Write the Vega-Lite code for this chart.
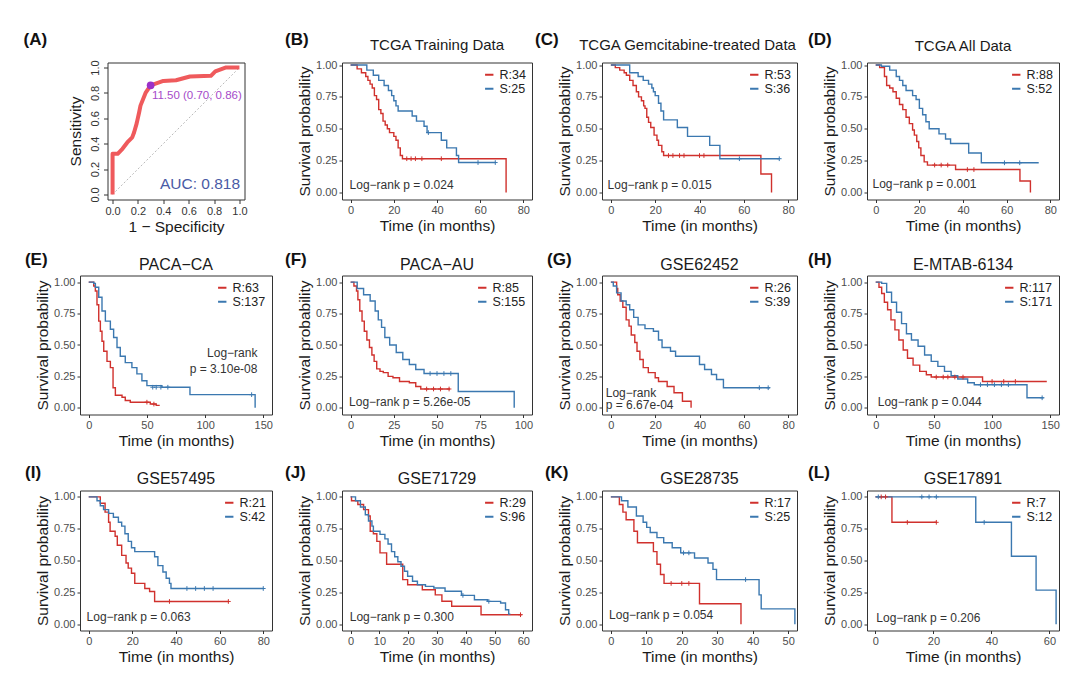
{
"$schema": "https://vega.github.io/schema/vega-lite/v6.json",
"background": "white",
"padding": {"left": 23, "top": 29.5, "right": 5, "bottom": 5},
"columns": 4,
"spacing": {"row": 76, "column": 70},
"bounds": "flush",
"align": "each",
"center": true,
"resolve": {"scale": {"color": "independent"}, "legend": {"color": "independent"}},
"config": {
  "font": "Liberation Sans",
  "view": {"stroke": "#333333", "strokeWidth": 1},
  "axis": {"domain": false, "grid": false, "tickColor": "#333333", "tickSize": 3, "tickWidth": 1, "labelFontSize": 11, "labelColor": "#4D4D4D", "labelPadding": 2, "labelFlush": false, "labelOverlap": false, "titleFontSize": 15.5, "titleFontWeight": "normal", "titleColor": "#1A1A1A", "titlePadding": 3},
  "legend": {"orient": "top-right", "offset": 6, "labelFontSize": 12.5, "labelColor": "#222222", "symbolType": "stroke", "symbolStrokeWidth": 2, "symbolSize": 70, "rowPadding": 1, "padding": 0, "labelOffset": 4}
},
"concat": [
{
 "width": 137, "height": 137,
 "layer": [
  {"data": {"values": [{"fpr": 0, "tpr": 0}, {"fpr": 1, "tpr": 1}]},
   "mark": {"type": "line", "color": "#BBBBBB", "strokeWidth": 1, "strokeDash": [2, 2]},
   "encoding": {
    "x": {"field": "fpr", "type": "quantitative", "scale": {"domain": [-0.04, 1.04], "nice": false, "zero": false}, "axis": {"values": [0, 0.2, 0.4, 0.6, 0.8, 1], "tickCount": 20, "format": ".1f", "title": "1 − Specificity", "labelColor": "#333333", "tickSize": 4, "titlePadding": 3, "labelOverlap": false}},
    "y": {"field": "tpr", "type": "quantitative", "scale": {"domain": [-0.04, 1.04], "nice": false, "zero": false}, "axis": {"values": [0, 0.2, 0.4, 0.6, 0.8, 1], "tickCount": 20, "format": ".1f", "title": "Sensitivity", "labelAngle": -90, "labelColor": "#333333", "tickSize": 4, "labelPadding": 3, "titlePadding": 6, "labelOverlap": false}}}},
  {"data": {"values": [
    {"i": 0, "fpr": 0, "tpr": 0}, {"i": 1, "fpr": 0, "tpr": 0.32}, {"i": 2, "fpr": 0.04, "tpr": 0.32}, {"i": 3, "fpr": 0.078, "tpr": 0.36},
    {"i": 4, "fpr": 0.116, "tpr": 0.41}, {"i": 5, "fpr": 0.155, "tpr": 0.45}, {"i": 6, "fpr": 0.17, "tpr": 0.49}, {"i": 7, "fpr": 0.19, "tpr": 0.56},
    {"i": 8, "fpr": 0.21, "tpr": 0.65}, {"i": 9, "fpr": 0.22, "tpr": 0.7}, {"i": 10, "fpr": 0.26, "tpr": 0.8}, {"i": 11, "fpr": 0.3, "tpr": 0.86},
    {"i": 12, "fpr": 0.4, "tpr": 0.895}, {"i": 13, "fpr": 0.5, "tpr": 0.9}, {"i": 14, "fpr": 0.61, "tpr": 0.93}, {"i": 15, "fpr": 0.775, "tpr": 0.935},
    {"i": 16, "fpr": 0.81, "tpr": 0.97}, {"i": 17, "fpr": 0.89, "tpr": 1}, {"i": 18, "fpr": 1, "tpr": 1}]},
   "mark": {"type": "line", "color": "#EF5A5C", "strokeWidth": 4, "strokeJoin": "round"},
   "encoding": {
    "x": {"field": "fpr", "type": "quantitative", "scale": {"domain": [-0.04, 1.04], "nice": false, "zero": false}},
    "y": {"field": "tpr", "type": "quantitative", "scale": {"domain": [-0.04, 1.04], "nice": false, "zero": false}},
    "order": {"field": "i", "type": "quantitative"}}},
  {"data": {"values": [{"fpr": 0.3, "tpr": 0.86}]},
   "mark": {"type": "point", "filled": true, "color": "#9B30C8", "size": 60, "opacity": 1},
   "encoding": {
    "x": {"field": "fpr", "type": "quantitative", "scale": {"domain": [-0.04, 1.04], "nice": false, "zero": false}},
    "y": {"field": "tpr", "type": "quantitative", "scale": {"domain": [-0.04, 1.04], "nice": false, "zero": false}}}},
  {"data": {"values": [{}]},
   "mark": {"type": "text", "text": "11.50 (0.70, 0.86)", "align": "left", "baseline": "middle", "fontSize": 11.5, "color": "#A64BC9"},
   "encoding": {
    "x": {"datum": 0.31, "type": "quantitative", "scale": {"domain": [-0.04, 1.04], "nice": false, "zero": false}},
    "y": {"datum": 0.775, "type": "quantitative", "scale": {"domain": [-0.04, 1.04], "nice": false, "zero": false}}}},
  {"data": {"values": [{}]},
   "mark": {"type": "text", "text": "AUC: 0.818", "align": "right", "baseline": "middle", "fontSize": 15.5, "color": "#4A5AA5"},
   "encoding": {
    "x": {"datum": 1.005, "type": "quantitative", "scale": {"domain": [-0.04, 1.04], "nice": false, "zero": false}},
    "y": {"datum": 0.08, "type": "quantitative", "scale": {"domain": [-0.04, 1.04], "nice": false, "zero": false}}}},
  {"data": {"values": [{}]},
   "mark": {"type": "text", "text": "(A)", "align": "left", "baseline": "middle", "fontSize": 17, "fontWeight": "bold", "color": "#111111"},
   "encoding": {
    "x": {"datum": -0.702, "type": "quantitative", "scale": {"domain": [-0.04, 1.04], "nice": false, "zero": false}},
    "y": {"datum": 1.219, "type": "quantitative", "scale": {"domain": [-0.04, 1.04], "nice": false, "zero": false}}}}
 ]
},
{
 "width": 190, "height": 137,
 "data": {"values": [
  {"g": "R:34", "t": 0, "s": 1}, {"g": "R:34", "t": 3, "s": 0.97}, {"g": "R:34", "t": 5, "s": 0.94}, {"g": "R:34", "t": 7, "s": 0.91}, {"g": "R:34", "t": 8, "s": 0.88}, {"g": "R:34", "t": 9, "s": 0.85}, {"g": "R:34", "t": 10, "s": 0.82}, {"g": "R:34", "t": 11, "s": 0.76}, {"g": "R:34", "t": 12, "s": 0.73}, {"g": "R:34", "t": 13, "s": 0.65}, {"g": "R:34", "t": 14, "s": 0.62}, {"g": "R:34", "t": 15, "s": 0.56}, {"g": "R:34", "t": 16, "s": 0.53}, {"g": "R:34", "t": 17, "s": 0.5}, {"g": "R:34", "t": 18, "s": 0.47}, {"g": "R:34", "t": 20, "s": 0.44}, {"g": "R:34", "t": 21, "s": 0.41}, {"g": "R:34", "t": 22, "s": 0.35}, {"g": "R:34", "t": 23, "s": 0.29}, {"g": "R:34", "t": 24, "s": 0.265}, {"g": "R:34", "t": 72, "s": 0},
  {"g": "S:25", "t": 0, "s": 1}, {"g": "S:25", "t": 7.5, "s": 0.96}, {"g": "S:25", "t": 10.5, "s": 0.92}, {"g": "S:25", "t": 13, "s": 0.88}, {"g": "S:25", "t": 15.5, "s": 0.84}, {"g": "S:25", "t": 17.5, "s": 0.8}, {"g": "S:25", "t": 19, "s": 0.76}, {"g": "S:25", "t": 20, "s": 0.72}, {"g": "S:25", "t": 21, "s": 0.68}, {"g": "S:25", "t": 22, "s": 0.64}, {"g": "S:25", "t": 28.5, "s": 0.6}, {"g": "S:25", "t": 30.5, "s": 0.56}, {"g": "S:25", "t": 34, "s": 0.52}, {"g": "S:25", "t": 35.4, "s": 0.47}, {"g": "S:25", "t": 42, "s": 0.41}, {"g": "S:25", "t": 44.5, "s": 0.35}, {"g": "S:25", "t": 49, "s": 0.29}, {"g": "S:25", "t": 50, "s": 0.235}, {"g": "S:25", "t": 67, "s": 0.235}
 ]},
 "layer": [
  {"mark": {"type": "line", "interpolate": "step-after", "strokeWidth": 1.4},
   "encoding": {
    "x": {"field": "t", "type": "quantitative", "scale": {"domain": [-4, 84], "nice": false, "zero": false}, "axis": {"values": [0, 20, 40, 60, 80], "tickCount": 20, "title": "Time (in months)"}},
    "y": {"field": "s", "type": "quantitative", "scale": {"domain": [-0.055, 1.02], "nice": false, "zero": false}, "axis": {"values": [0, 0.25, 0.5, 0.75, 1], "tickCount": 20, "format": ".2f", "title": "Survival probability"}},
    "color": {"field": "g", "type": "nominal", "scale": {"domain": ["R:34", "S:25"], "range": ["#D0312D", "#3B78B0"]}, "legend": {"title": null}}}},
  {"data": {"values": [{"g": "R:34", "t": 26, "s": 0.265}, {"g": "R:34", "t": 28, "s": 0.265}, {"g": "R:34", "t": 30, "s": 0.265}, {"g": "R:34", "t": 33, "s": 0.265}, {"g": "R:34", "t": 42, "s": 0.265}, {"g": "S:25", "t": 36, "s": 0.47}, {"g": "S:25", "t": 59, "s": 0.235}, {"g": "S:25", "t": 67, "s": 0.235}]},
   "mark": {"type": "point", "shape": "M-1,0H1M0,-1V1", "size": 22, "filled": false, "strokeWidth": 1, "opacity": 1},
   "encoding": {
    "x": {"field": "t", "type": "quantitative", "scale": {"domain": [-4, 84], "nice": false, "zero": false}},
    "y": {"field": "s", "type": "quantitative", "scale": {"domain": [-0.055, 1.02], "nice": false, "zero": false}},
    "color": {"field": "g", "type": "nominal", "scale": {"domain": ["R:34", "S:25"], "range": ["#D0312D", "#3B78B0"]}, "legend": null}}},
  {"data": {"values": [{}]},
   "mark": {"type": "text", "text": "Log−rank p = 0.024", "align": "left", "baseline": "middle", "fontSize": 12, "color": "#333333"},
   "encoding": {
    "x": {"datum": -0.5, "type": "quantitative", "scale": {"domain": [-4, 84], "nice": false, "zero": false}},
    "y": {"datum": 0.06, "type": "quantitative", "scale": {"domain": [-0.055, 1.02], "nice": false, "zero": false}}}},
  {"data": {"values": [{}]},
   "mark": {"type": "text", "text": "(B)", "align": "left", "baseline": "middle", "fontSize": 17, "fontWeight": "bold", "color": "#111111"},
   "encoding": {
    "x": {"datum": -30.4, "type": "quantitative", "scale": {"domain": [-4, 84], "nice": false, "zero": false}},
    "y": {"datum": 1.198, "type": "quantitative", "scale": {"domain": [-0.055, 1.02], "nice": false, "zero": false}}}},
  {"data": {"values": [{}]},
   "mark": {"type": "text", "text": "TCGA Training Data", "align": "center", "baseline": "alphabetic", "fontSize": 15, "color": "#1A1A1A"},
   "encoding": {
    "x": {"datum": 40, "type": "quantitative", "scale": {"domain": [-4, 84], "nice": false, "zero": false}},
    "y": {"datum": 1.12, "type": "quantitative", "scale": {"domain": [-0.055, 1.02], "nice": false, "zero": false}}}}
 ]
},
{
 "width": 195, "height": 137,
 "data": {"values": [
  {"g": "R:53", "t": 0, "s": 1}, {"g": "R:53", "t": 2, "s": 0.98}, {"g": "R:53", "t": 4, "s": 0.96}, {"g": "R:53", "t": 6, "s": 0.94}, {"g": "R:53", "t": 7, "s": 0.92}, {"g": "R:53", "t": 8.5, "s": 0.88}, {"g": "R:53", "t": 10, "s": 0.84}, {"g": "R:53", "t": 11.5, "s": 0.79}, {"g": "R:53", "t": 12.5, "s": 0.75}, {"g": "R:53", "t": 13.8, "s": 0.72}, {"g": "R:53", "t": 14.8, "s": 0.68}, {"g": "R:53", "t": 15.4, "s": 0.66}, {"g": "R:53", "t": 16.2, "s": 0.59}, {"g": "R:53", "t": 17, "s": 0.55}, {"g": "R:53", "t": 18, "s": 0.51}, {"g": "R:53", "t": 19.5, "s": 0.45}, {"g": "R:53", "t": 20.8, "s": 0.41}, {"g": "R:53", "t": 21.5, "s": 0.37}, {"g": "R:53", "t": 23, "s": 0.32}, {"g": "R:53", "t": 23.8, "s": 0.29}, {"g": "R:53", "t": 67.7, "s": 0.145}, {"g": "R:53", "t": 72.5, "s": 0},
  {"g": "S:36", "t": 0, "s": 1}, {"g": "S:36", "t": 8.5, "s": 0.94}, {"g": "S:36", "t": 12.3, "s": 0.91}, {"g": "S:36", "t": 14.6, "s": 0.88}, {"g": "S:36", "t": 17, "s": 0.85}, {"g": "S:36", "t": 18.5, "s": 0.82}, {"g": "S:36", "t": 19.2, "s": 0.79}, {"g": "S:36", "t": 20, "s": 0.76}, {"g": "S:36", "t": 21.5, "s": 0.7}, {"g": "S:36", "t": 22.6, "s": 0.64}, {"g": "S:36", "t": 23.8, "s": 0.57}, {"g": "S:36", "t": 30, "s": 0.51}, {"g": "S:36", "t": 34.6, "s": 0.44}, {"g": "S:36", "t": 44.6, "s": 0.37}, {"g": "S:36", "t": 49.2, "s": 0.265}, {"g": "S:36", "t": 76, "s": 0.265}
 ]},
 "layer": [
  {"mark": {"type": "line", "interpolate": "step-after", "strokeWidth": 1.4},
   "encoding": {
    "x": {"field": "t", "type": "quantitative", "scale": {"domain": [-4, 84], "nice": false, "zero": false}, "axis": {"values": [0, 20, 40, 60, 80], "tickCount": 20, "title": "Time (in months)"}},
    "y": {"field": "s", "type": "quantitative", "scale": {"domain": [-0.055, 1.02], "nice": false, "zero": false}, "axis": {"values": [0, 0.25, 0.5, 0.75, 1], "tickCount": 20, "format": ".2f", "title": "Survival probability"}},
    "color": {"field": "g", "type": "nominal", "scale": {"domain": ["R:53", "S:36"], "range": ["#D0312D", "#3B78B0"]}, "legend": {"title": null}}}},
  {"data": {"values": [{"g": "R:53", "t": 26, "s": 0.29}, {"g": "R:53", "t": 28, "s": 0.29}, {"g": "R:53", "t": 31, "s": 0.29}, {"g": "R:53", "t": 33, "s": 0.29}, {"g": "R:53", "t": 40, "s": 0.29}, {"g": "R:53", "t": 42, "s": 0.29}, {"g": "S:36", "t": 58, "s": 0.265}, {"g": "S:36", "t": 76, "s": 0.265}]},
   "mark": {"type": "point", "shape": "M-1,0H1M0,-1V1", "size": 22, "filled": false, "strokeWidth": 1, "opacity": 1},
   "encoding": {
    "x": {"field": "t", "type": "quantitative", "scale": {"domain": [-4, 84], "nice": false, "zero": false}},
    "y": {"field": "s", "type": "quantitative", "scale": {"domain": [-0.055, 1.02], "nice": false, "zero": false}},
    "color": {"field": "g", "type": "nominal", "scale": {"domain": ["R:53", "S:36"], "range": ["#D0312D", "#3B78B0"]}, "legend": null}}},
  {"data": {"values": [{}]},
   "mark": {"type": "text", "text": "Log−rank  p = 0.015", "align": "left", "baseline": "middle", "fontSize": 12, "color": "#333333"},
   "encoding": {
    "x": {"datum": -1.5, "type": "quantitative", "scale": {"domain": [-4, 84], "nice": false, "zero": false}},
    "y": {"datum": 0.06, "type": "quantitative", "scale": {"domain": [-0.055, 1.02], "nice": false, "zero": false}}}},
  {"data": {"values": [{}]},
   "mark": {"type": "text", "text": "(C)", "align": "left", "baseline": "middle", "fontSize": 17, "fontWeight": "bold", "color": "#111111"},
   "encoding": {
    "x": {"datum": -34.2, "type": "quantitative", "scale": {"domain": [-4, 84], "nice": false, "zero": false}},
    "y": {"datum": 1.198, "type": "quantitative", "scale": {"domain": [-0.055, 1.02], "nice": false, "zero": false}}}},
  {"data": {"values": [{}]},
   "mark": {"type": "text", "text": "TCGA Gemcitabine-treated Data", "align": "center", "baseline": "alphabetic", "fontSize": 15, "color": "#1A1A1A"},
   "encoding": {
    "x": {"datum": 34.6, "type": "quantitative", "scale": {"domain": [-4, 84], "nice": false, "zero": false}},
    "y": {"datum": 1.12, "type": "quantitative", "scale": {"domain": [-0.055, 1.02], "nice": false, "zero": false}}}}
 ]
},
{
 "width": 192, "height": 137,
 "data": {"values": [
  {"g": "R:88", "t": 0, "s": 1}, {"g": "R:88", "t": 1.8, "s": 0.98}, {"g": "R:88", "t": 4, "s": 0.91}, {"g": "R:88", "t": 5, "s": 0.84}, {"g": "R:88", "t": 6.4, "s": 0.82}, {"g": "R:88", "t": 7.9, "s": 0.79}, {"g": "R:88", "t": 9.4, "s": 0.74}, {"g": "R:88", "t": 10.9, "s": 0.69}, {"g": "R:88", "t": 12.4, "s": 0.65}, {"g": "R:88", "t": 13.9, "s": 0.59}, {"g": "R:88", "t": 15.4, "s": 0.54}, {"g": "R:88", "t": 16.9, "s": 0.49}, {"g": "R:88", "t": 17.7, "s": 0.45}, {"g": "R:88", "t": 18.8, "s": 0.4}, {"g": "R:88", "t": 19.7, "s": 0.35}, {"g": "R:88", "t": 20.7, "s": 0.29}, {"g": "R:88", "t": 22.2, "s": 0.24}, {"g": "R:88", "t": 23.7, "s": 0.215}, {"g": "R:88", "t": 36.6, "s": 0.18}, {"g": "R:88", "t": 66.1, "s": 0.09}, {"g": "R:88", "t": 70.9, "s": 0},
  {"g": "S:52", "t": 0, "s": 1}, {"g": "S:52", "t": 2.6, "s": 0.99}, {"g": "S:52", "t": 6.4, "s": 0.96}, {"g": "S:52", "t": 9.4, "s": 0.91}, {"g": "S:52", "t": 10.9, "s": 0.88}, {"g": "S:52", "t": 12.4, "s": 0.84}, {"g": "S:52", "t": 13.9, "s": 0.8}, {"g": "S:52", "t": 16.9, "s": 0.76}, {"g": "S:52", "t": 18.5, "s": 0.73}, {"g": "S:52", "t": 20, "s": 0.66}, {"g": "S:52", "t": 21.5, "s": 0.61}, {"g": "S:52", "t": 23, "s": 0.555}, {"g": "S:52", "t": 24.5, "s": 0.5}, {"g": "S:52", "t": 29, "s": 0.46}, {"g": "S:52", "t": 32, "s": 0.42}, {"g": "S:52", "t": 34.3, "s": 0.385}, {"g": "S:52", "t": 42.6, "s": 0.31}, {"g": "S:52", "t": 48.4, "s": 0.233}, {"g": "S:52", "t": 74.7, "s": 0.233}
 ]},
 "layer": [
  {"mark": {"type": "line", "interpolate": "step-after", "strokeWidth": 1.4},
   "encoding": {
    "x": {"field": "t", "type": "quantitative", "scale": {"domain": [-4, 84], "nice": false, "zero": false}, "axis": {"values": [0, 20, 40, 60, 80], "tickCount": 20, "title": "Time (in months)"}},
    "y": {"field": "s", "type": "quantitative", "scale": {"domain": [-0.055, 1.02], "nice": false, "zero": false}, "axis": {"values": [0, 0.25, 0.5, 0.75, 1], "tickCount": 20, "format": ".2f", "title": "Survival probability"}},
    "color": {"field": "g", "type": "nominal", "scale": {"domain": ["R:88", "S:52"], "range": ["#D0312D", "#3B78B0"]}, "legend": {"title": null}}}},
  {"data": {"values": [{"g": "R:88", "t": 27, "s": 0.215}, {"g": "R:88", "t": 30, "s": 0.215}, {"g": "R:88", "t": 33, "s": 0.215}, {"g": "R:88", "t": 42, "s": 0.18}, {"g": "R:88", "t": 45, "s": 0.18}, {"g": "S:52", "t": 59, "s": 0.233}, {"g": "S:52", "t": 66, "s": 0.233}]},
   "mark": {"type": "point", "shape": "M-1,0H1M0,-1V1", "size": 22, "filled": false, "strokeWidth": 1, "opacity": 1},
   "encoding": {
    "x": {"field": "t", "type": "quantitative", "scale": {"domain": [-4, 84], "nice": false, "zero": false}},
    "y": {"field": "s", "type": "quantitative", "scale": {"domain": [-0.055, 1.02], "nice": false, "zero": false}},
    "color": {"field": "g", "type": "nominal", "scale": {"domain": ["R:88", "S:52"], "range": ["#D0312D", "#3B78B0"]}, "legend": null}}},
  {"data": {"values": [{}]},
   "mark": {"type": "text", "text": "Log−rank p = 0.001", "align": "left", "baseline": "middle", "fontSize": 12, "color": "#333333"},
   "encoding": {
    "x": {"datum": -1.5, "type": "quantitative", "scale": {"domain": [-4, 84], "nice": false, "zero": false}},
    "y": {"datum": 0.065, "type": "quantitative", "scale": {"domain": [-0.055, 1.02], "nice": false, "zero": false}}}},
  {"data": {"values": [{}]},
   "mark": {"type": "text", "text": "(D)", "align": "left", "baseline": "middle", "fontSize": 17, "fontWeight": "bold", "color": "#111111"},
   "encoding": {
    "x": {"datum": -31, "type": "quantitative", "scale": {"domain": [-4, 84], "nice": false, "zero": false}},
    "y": {"datum": 1.198, "type": "quantitative", "scale": {"domain": [-0.055, 1.02], "nice": false, "zero": false}}}},
  {"data": {"values": [{}]},
   "mark": {"type": "text", "text": "TCGA All Data", "align": "center", "baseline": "alphabetic", "fontSize": 15, "color": "#1A1A1A"},
   "encoding": {
    "x": {"datum": 40, "type": "quantitative", "scale": {"domain": [-4, 84], "nice": false, "zero": false}},
    "y": {"datum": 1.11, "type": "quantitative", "scale": {"domain": [-0.055, 1.02], "nice": false, "zero": false}}}}
 ]
},
{
 "width": 192, "height": 139,
 "data": {"values": [
  {"g": "R:63", "t": 0, "s": 1}, {"g": "R:63", "t": 4.3, "s": 0.97}, {"g": "R:63", "t": 5.7, "s": 0.93}, {"g": "R:63", "t": 7.1, "s": 0.82}, {"g": "R:63", "t": 8.6, "s": 0.69}, {"g": "R:63", "t": 10, "s": 0.61}, {"g": "R:63", "t": 11.4, "s": 0.53}, {"g": "R:63", "t": 12.9, "s": 0.45}, {"g": "R:63", "t": 15.7, "s": 0.37}, {"g": "R:63", "t": 18.6, "s": 0.32}, {"g": "R:63", "t": 20.9, "s": 0.16}, {"g": "R:63", "t": 22.9, "s": 0.1}, {"g": "R:63", "t": 28.6, "s": 0.084}, {"g": "R:63", "t": 31.4, "s": 0.058}, {"g": "R:63", "t": 35.7, "s": 0.045}, {"g": "R:63", "t": 52.9, "s": 0.03}, {"g": "R:63", "t": 58, "s": 0.02}, {"g": "R:63", "t": 61, "s": 0.02},
  {"g": "S:137", "t": 0, "s": 1}, {"g": "S:137", "t": 4.3, "s": 0.99}, {"g": "S:137", "t": 5.7, "s": 0.96}, {"g": "S:137", "t": 8.6, "s": 0.88}, {"g": "S:137", "t": 11.4, "s": 0.77}, {"g": "S:137", "t": 14.3, "s": 0.69}, {"g": "S:137", "t": 18.6, "s": 0.625}, {"g": "S:137", "t": 21.4, "s": 0.56}, {"g": "S:137", "t": 24.3, "s": 0.48}, {"g": "S:137", "t": 27.1, "s": 0.41}, {"g": "S:137", "t": 31.4, "s": 0.36}, {"g": "S:137", "t": 37.1, "s": 0.32}, {"g": "S:137", "t": 41.4, "s": 0.27}, {"g": "S:137", "t": 45.7, "s": 0.216}, {"g": "S:137", "t": 50, "s": 0.177}, {"g": "S:137", "t": 62.9, "s": 0.164}, {"g": "S:137", "t": 87, "s": 0.105}, {"g": "S:137", "t": 143, "s": 0}
 ]},
 "layer": [
  {"mark": {"type": "line", "interpolate": "step-after", "strokeWidth": 1.4},
   "encoding": {
    "x": {"field": "t", "type": "quantitative", "scale": {"domain": [-7.5, 157.5], "nice": false, "zero": false}, "axis": {"values": [0, 50, 100, 150], "tickCount": 20, "title": "Time (in months)"}},
    "y": {"field": "s", "type": "quantitative", "scale": {"domain": [-0.053, 1.053], "nice": false, "zero": false}, "axis": {"values": [0, 0.25, 0.5, 0.75, 1], "tickCount": 20, "format": ".2f", "title": "Survival probability"}},
    "color": {"field": "g", "type": "nominal", "scale": {"domain": ["R:63", "S:137"], "range": ["#D0312D", "#3B78B0"]}, "legend": {"title": null}}}},
  {"data": {"values": [{"g": "R:63", "t": 50, "s": 0.045}, {"g": "R:63", "t": 56, "s": 0.03}, {"g": "S:137", "t": 55, "s": 0.164}, {"g": "S:137", "t": 58, "s": 0.164}, {"g": "S:137", "t": 62, "s": 0.164}, {"g": "S:137", "t": 68, "s": 0.164}, {"g": "S:137", "t": 140, "s": 0.105}]},
   "mark": {"type": "point", "shape": "M-1,0H1M0,-1V1", "size": 22, "filled": false, "strokeWidth": 1, "opacity": 1},
   "encoding": {
    "x": {"field": "t", "type": "quantitative", "scale": {"domain": [-7.5, 157.5], "nice": false, "zero": false}},
    "y": {"field": "s", "type": "quantitative", "scale": {"domain": [-0.053, 1.053], "nice": false, "zero": false}},
    "color": {"field": "g", "type": "nominal", "scale": {"domain": ["R:63", "S:137"], "range": ["#D0312D", "#3B78B0"]}, "legend": null}}},
  {"data": {"values": [{}]},
   "mark": {"type": "text", "text": "Log−rank", "align": "right", "baseline": "middle", "fontSize": 12, "color": "#333333"},
   "encoding": {
    "x": {"datum": 145, "type": "quantitative", "scale": {"domain": [-7.5, 157.5], "nice": false, "zero": false}},
    "y": {"datum": 0.44, "type": "quantitative", "scale": {"domain": [-0.053, 1.053], "nice": false, "zero": false}}}},
  {"data": {"values": [{}]},
   "mark": {"type": "text", "text": "p = 3.10e-08", "align": "right", "baseline": "middle", "fontSize": 12, "color": "#333333"},
   "encoding": {
    "x": {"datum": 145, "type": "quantitative", "scale": {"domain": [-7.5, 157.5], "nice": false, "zero": false}},
    "y": {"datum": 0.31, "type": "quantitative", "scale": {"domain": [-0.053, 1.053], "nice": false, "zero": false}}}},
  {"data": {"values": [{}]},
   "mark": {"type": "text", "text": "(E)", "align": "left", "baseline": "middle", "fontSize": 17, "fontWeight": "bold", "color": "#111111"},
   "encoding": {
    "x": {"datum": -54.8, "type": "quantitative", "scale": {"domain": [-7.5, 157.5], "nice": false, "zero": false}},
    "y": {"datum": 1.18, "type": "quantitative", "scale": {"domain": [-0.053, 1.053], "nice": false, "zero": false}}}},
  {"data": {"values": [{}]},
   "mark": {"type": "text", "text": "PACA−CA", "align": "center", "baseline": "alphabetic", "fontSize": 16, "color": "#1A1A1A"},
   "encoding": {
    "x": {"datum": 75, "type": "quantitative", "scale": {"domain": [-7.5, 157.5], "nice": false, "zero": false}},
    "y": {"datum": 1.1, "type": "quantitative", "scale": {"domain": [-0.053, 1.053], "nice": false, "zero": false}}}}
 ]
},
{
 "width": 190, "height": 139,
 "data": {"values": [
  {"g": "R:85", "t": 0, "s": 1}, {"g": "R:85", "t": 1.9, "s": 0.97}, {"g": "R:85", "t": 3.4, "s": 0.93}, {"g": "R:85", "t": 4.2, "s": 0.86}, {"g": "R:85", "t": 5.3, "s": 0.77}, {"g": "R:85", "t": 6.6, "s": 0.69}, {"g": "R:85", "t": 7.9, "s": 0.61}, {"g": "R:85", "t": 9.4, "s": 0.54}, {"g": "R:85", "t": 10.9, "s": 0.48}, {"g": "R:85", "t": 12.3, "s": 0.42}, {"g": "R:85", "t": 13.6, "s": 0.37}, {"g": "R:85", "t": 15.1, "s": 0.31}, {"g": "R:85", "t": 17, "s": 0.29}, {"g": "R:85", "t": 18.9, "s": 0.28}, {"g": "R:85", "t": 21.7, "s": 0.25}, {"g": "R:85", "t": 24.5, "s": 0.24}, {"g": "R:85", "t": 28.3, "s": 0.21}, {"g": "R:85", "t": 34, "s": 0.2}, {"g": "R:85", "t": 37.7, "s": 0.17}, {"g": "R:85", "t": 40.6, "s": 0.15}, {"g": "R:85", "t": 57.5, "s": 0.15},
  {"g": "S:155", "t": 0, "s": 1}, {"g": "S:155", "t": 3.8, "s": 0.95}, {"g": "S:155", "t": 7.5, "s": 0.9}, {"g": "S:155", "t": 11.3, "s": 0.85}, {"g": "S:155", "t": 14.2, "s": 0.77}, {"g": "S:155", "t": 16, "s": 0.7}, {"g": "S:155", "t": 17.9, "s": 0.64}, {"g": "S:155", "t": 19.8, "s": 0.56}, {"g": "S:155", "t": 22.6, "s": 0.5}, {"g": "S:155", "t": 26.4, "s": 0.44}, {"g": "S:155", "t": 30.2, "s": 0.385}, {"g": "S:155", "t": 34, "s": 0.345}, {"g": "S:155", "t": 37.7, "s": 0.305}, {"g": "S:155", "t": 42.5, "s": 0.273}, {"g": "S:155", "t": 62.3, "s": 0.13}, {"g": "S:155", "t": 94.7, "s": 0}
 ]},
 "layer": [
  {"mark": {"type": "line", "interpolate": "step-after", "strokeWidth": 1.4},
   "encoding": {
    "x": {"field": "t", "type": "quantitative", "scale": {"domain": [-5, 105], "nice": false, "zero": false}, "axis": {"values": [0, 25, 50, 75, 100], "tickCount": 20, "title": "Time (in months)"}},
    "y": {"field": "s", "type": "quantitative", "scale": {"domain": [-0.053, 1.053], "nice": false, "zero": false}, "axis": {"values": [0, 0.25, 0.5, 0.75, 1], "tickCount": 20, "format": ".2f", "title": "Survival probability"}},
    "color": {"field": "g", "type": "nominal", "scale": {"domain": ["R:85", "S:155"], "range": ["#D0312D", "#3B78B0"]}, "legend": {"title": null}}}},
  {"data": {"values": [{"g": "R:85", "t": 44, "s": 0.15}, {"g": "R:85", "t": 48, "s": 0.15}, {"g": "R:85", "t": 52, "s": 0.15}, {"g": "R:85", "t": 57, "s": 0.15}, {"g": "S:155", "t": 46, "s": 0.273}, {"g": "S:155", "t": 50, "s": 0.273}, {"g": "S:155", "t": 54, "s": 0.273}, {"g": "S:155", "t": 58, "s": 0.273}]},
   "mark": {"type": "point", "shape": "M-1,0H1M0,-1V1", "size": 22, "filled": false, "strokeWidth": 1, "opacity": 1},
   "encoding": {
    "x": {"field": "t", "type": "quantitative", "scale": {"domain": [-5, 105], "nice": false, "zero": false}},
    "y": {"field": "s", "type": "quantitative", "scale": {"domain": [-0.053, 1.053], "nice": false, "zero": false}},
    "color": {"field": "g", "type": "nominal", "scale": {"domain": ["R:85", "S:155"], "range": ["#D0312D", "#3B78B0"]}, "legend": null}}},
  {"data": {"values": [{}]},
   "mark": {"type": "text", "text": "Log−rank p = 5.26e-05", "align": "left", "baseline": "middle", "fontSize": 12, "color": "#333333"},
   "encoding": {
    "x": {"datum": -0.9, "type": "quantitative", "scale": {"domain": [-5, 105], "nice": false, "zero": false}},
    "y": {"datum": 0.045, "type": "quantitative", "scale": {"domain": [-0.053, 1.053], "nice": false, "zero": false}}}},
  {"data": {"values": [{}]},
   "mark": {"type": "text", "text": "(F)", "align": "left", "baseline": "middle", "fontSize": 17, "fontWeight": "bold", "color": "#111111"},
   "encoding": {
    "x": {"datum": -38, "type": "quantitative", "scale": {"domain": [-5, 105], "nice": false, "zero": false}},
    "y": {"datum": 1.18, "type": "quantitative", "scale": {"domain": [-0.053, 1.053], "nice": false, "zero": false}}}},
  {"data": {"values": [{}]},
   "mark": {"type": "text", "text": "PACA−AU", "align": "center", "baseline": "alphabetic", "fontSize": 16, "color": "#1A1A1A"},
   "encoding": {
    "x": {"datum": 50, "type": "quantitative", "scale": {"domain": [-5, 105], "nice": false, "zero": false}},
    "y": {"datum": 1.1, "type": "quantitative", "scale": {"domain": [-0.053, 1.053], "nice": false, "zero": false}}}}
 ]
},
{
 "width": 195, "height": 139,
 "data": {"values": [
  {"g": "R:26", "t": 0, "s": 1}, {"g": "R:26", "t": 2.6, "s": 0.95}, {"g": "R:26", "t": 3.1, "s": 0.9}, {"g": "R:26", "t": 4.2, "s": 0.85}, {"g": "R:26", "t": 5.4, "s": 0.8}, {"g": "R:26", "t": 6.9, "s": 0.7}, {"g": "R:26", "t": 8.2, "s": 0.65}, {"g": "R:26", "t": 9.2, "s": 0.58}, {"g": "R:26", "t": 10.8, "s": 0.52}, {"g": "R:26", "t": 11.8, "s": 0.45}, {"g": "R:26", "t": 13.1, "s": 0.385}, {"g": "R:26", "t": 14.6, "s": 0.32}, {"g": "R:26", "t": 16.9, "s": 0.28}, {"g": "R:26", "t": 20, "s": 0.24}, {"g": "R:26", "t": 21.5, "s": 0.21}, {"g": "R:26", "t": 25.4, "s": 0.17}, {"g": "R:26", "t": 28.5, "s": 0.12}, {"g": "R:26", "t": 32.3, "s": 0.053}, {"g": "R:26", "t": 36.2, "s": 0},
  {"g": "S:39", "t": 0, "s": 1}, {"g": "S:39", "t": 1.1, "s": 0.97}, {"g": "S:39", "t": 2.6, "s": 0.915}, {"g": "S:39", "t": 4.6, "s": 0.85}, {"g": "S:39", "t": 6.9, "s": 0.82}, {"g": "S:39", "t": 8.5, "s": 0.78}, {"g": "S:39", "t": 10.3, "s": 0.72}, {"g": "S:39", "t": 12.3, "s": 0.66}, {"g": "S:39", "t": 15.4, "s": 0.63}, {"g": "S:39", "t": 19.2, "s": 0.61}, {"g": "S:39", "t": 21.5, "s": 0.54}, {"g": "S:39", "t": 23.1, "s": 0.48}, {"g": "S:39", "t": 26.9, "s": 0.45}, {"g": "S:39", "t": 29.2, "s": 0.41}, {"g": "S:39", "t": 40, "s": 0.345}, {"g": "S:39", "t": 42.3, "s": 0.305}, {"g": "S:39", "t": 45.4, "s": 0.265}, {"g": "S:39", "t": 47.7, "s": 0.225}, {"g": "S:39", "t": 50.8, "s": 0.16}, {"g": "S:39", "t": 71.8, "s": 0.16}
 ]},
 "layer": [
  {"mark": {"type": "line", "interpolate": "step-after", "strokeWidth": 1.4},
   "encoding": {
    "x": {"field": "t", "type": "quantitative", "scale": {"domain": [-4, 84], "nice": false, "zero": false}, "axis": {"values": [0, 20, 40, 60, 80], "tickCount": 20, "title": "Time (in months)"}},
    "y": {"field": "s", "type": "quantitative", "scale": {"domain": [-0.053, 1.053], "nice": false, "zero": false}, "axis": {"values": [0, 0.25, 0.5, 0.75, 1], "tickCount": 20, "format": ".2f", "title": "Survival probability"}},
    "color": {"field": "g", "type": "nominal", "scale": {"domain": ["R:26", "S:39"], "range": ["#D0312D", "#3B78B0"]}, "legend": {"title": null}}}},
  {"data": {"values": [{"g": "S:39", "t": 67, "s": 0.16}, {"g": "S:39", "t": 71, "s": 0.16}]},
   "mark": {"type": "point", "shape": "M-1,0H1M0,-1V1", "size": 22, "filled": false, "strokeWidth": 1, "opacity": 1},
   "encoding": {
    "x": {"field": "t", "type": "quantitative", "scale": {"domain": [-4, 84], "nice": false, "zero": false}},
    "y": {"field": "s", "type": "quantitative", "scale": {"domain": [-0.053, 1.053], "nice": false, "zero": false}},
    "color": {"field": "g", "type": "nominal", "scale": {"domain": ["R:26", "S:39"], "range": ["#D0312D", "#3B78B0"]}, "legend": null}}},
  {"data": {"values": [{}]},
   "mark": {"type": "text", "text": "Log−rank", "align": "left", "baseline": "middle", "fontSize": 12, "color": "#333333"},
   "encoding": {
    "x": {"datum": -2.3, "type": "quantitative", "scale": {"domain": [-4, 84], "nice": false, "zero": false}},
    "y": {"datum": 0.12, "type": "quantitative", "scale": {"domain": [-0.053, 1.053], "nice": false, "zero": false}}}},
  {"data": {"values": [{}]},
   "mark": {"type": "text", "text": "p = 6.67e-04", "align": "left", "baseline": "middle", "fontSize": 12, "color": "#333333"},
   "encoding": {
    "x": {"datum": -2.3, "type": "quantitative", "scale": {"domain": [-4, 84], "nice": false, "zero": false}},
    "y": {"datum": 0.02, "type": "quantitative", "scale": {"domain": [-0.053, 1.053], "nice": false, "zero": false}}}},
  {"data": {"values": [{}]},
   "mark": {"type": "text", "text": "(G)", "align": "left", "baseline": "middle", "fontSize": 17, "fontWeight": "bold", "color": "#111111"},
   "encoding": {
    "x": {"datum": -28.8, "type": "quantitative", "scale": {"domain": [-4, 84], "nice": false, "zero": false}},
    "y": {"datum": 1.18, "type": "quantitative", "scale": {"domain": [-0.053, 1.053], "nice": false, "zero": false}}}},
  {"data": {"values": [{}]},
   "mark": {"type": "text", "text": "GSE62452", "align": "center", "baseline": "alphabetic", "fontSize": 16, "color": "#1A1A1A"},
   "encoding": {
    "x": {"datum": 40, "type": "quantitative", "scale": {"domain": [-4, 84], "nice": false, "zero": false}},
    "y": {"datum": 1.1, "type": "quantitative", "scale": {"domain": [-0.053, 1.053], "nice": false, "zero": false}}}}
 ]
},
{
 "width": 192, "height": 139,
 "data": {"values": [
  {"g": "R:117", "t": 0, "s": 1}, {"g": "R:117", "t": 2.8, "s": 0.96}, {"g": "R:117", "t": 5.1, "s": 0.91}, {"g": "R:117", "t": 7.4, "s": 0.84}, {"g": "R:117", "t": 10.2, "s": 0.78}, {"g": "R:117", "t": 13.1, "s": 0.7}, {"g": "R:117", "t": 16.5, "s": 0.62}, {"g": "R:117", "t": 19.9, "s": 0.54}, {"g": "R:117", "t": 23.6, "s": 0.46}, {"g": "R:117", "t": 27.3, "s": 0.395}, {"g": "R:117", "t": 32.1, "s": 0.34}, {"g": "R:117", "t": 37.8, "s": 0.29}, {"g": "R:117", "t": 43.5, "s": 0.263}, {"g": "R:117", "t": 47.7, "s": 0.245}, {"g": "R:117", "t": 91.8, "s": 0.21}, {"g": "R:117", "t": 147, "s": 0.21},
  {"g": "S:171", "t": 0, "s": 1}, {"g": "S:171", "t": 5.1, "s": 0.99}, {"g": "S:171", "t": 9.4, "s": 0.92}, {"g": "S:171", "t": 13.6, "s": 0.84}, {"g": "S:171", "t": 17.9, "s": 0.76}, {"g": "S:171", "t": 22.2, "s": 0.67}, {"g": "S:171", "t": 26.4, "s": 0.59}, {"g": "S:171", "t": 30.7, "s": 0.54}, {"g": "S:171", "t": 36.4, "s": 0.49}, {"g": "S:171", "t": 42, "s": 0.42}, {"g": "S:171", "t": 47.7, "s": 0.37}, {"g": "S:171", "t": 53.4, "s": 0.33}, {"g": "S:171", "t": 59.1, "s": 0.29}, {"g": "S:171", "t": 64.8, "s": 0.255}, {"g": "S:171", "t": 70.5, "s": 0.23}, {"g": "S:171", "t": 79, "s": 0.2}, {"g": "S:171", "t": 84.7, "s": 0.184}, {"g": "S:171", "t": 130, "s": 0.08}, {"g": "S:171", "t": 144.3, "s": 0.08}
 ]},
 "layer": [
  {"mark": {"type": "line", "interpolate": "step-after", "strokeWidth": 1.4},
   "encoding": {
    "x": {"field": "t", "type": "quantitative", "scale": {"domain": [-7.5, 157.5], "nice": false, "zero": false}, "axis": {"values": [0, 50, 100, 150], "tickCount": 20, "title": "Time (in months)"}},
    "y": {"field": "s", "type": "quantitative", "scale": {"domain": [-0.053, 1.053], "nice": false, "zero": false}, "axis": {"values": [0, 0.25, 0.5, 0.75, 1], "tickCount": 20, "format": ".2f", "title": "Survival probability"}},
    "color": {"field": "g", "type": "nominal", "scale": {"domain": ["R:117", "S:171"], "range": ["#D0312D", "#3B78B0"]}, "legend": {"title": null}}}},
  {"data": {"values": [{"g": "R:117", "t": 52, "s": 0.245}, {"g": "R:117", "t": 58, "s": 0.245}, {"g": "R:117", "t": 62, "s": 0.245}, {"g": "R:117", "t": 68, "s": 0.245}, {"g": "R:117", "t": 75, "s": 0.245}, {"g": "R:117", "t": 100, "s": 0.21}, {"g": "R:117", "t": 110, "s": 0.21}, {"g": "R:117", "t": 120, "s": 0.21}, {"g": "S:171", "t": 90, "s": 0.184}, {"g": "S:171", "t": 96, "s": 0.184}, {"g": "S:171", "t": 102, "s": 0.184}, {"g": "S:171", "t": 108, "s": 0.184}, {"g": "S:171", "t": 114, "s": 0.184}, {"g": "S:171", "t": 143, "s": 0.08}]},
   "mark": {"type": "point", "shape": "M-1,0H1M0,-1V1", "size": 22, "filled": false, "strokeWidth": 1, "opacity": 1},
   "encoding": {
    "x": {"field": "t", "type": "quantitative", "scale": {"domain": [-7.5, 157.5], "nice": false, "zero": false}},
    "y": {"field": "s", "type": "quantitative", "scale": {"domain": [-0.053, 1.053], "nice": false, "zero": false}},
    "color": {"field": "g", "type": "nominal", "scale": {"domain": ["R:117", "S:171"], "range": ["#D0312D", "#3B78B0"]}, "legend": null}}},
  {"data": {"values": [{}]},
   "mark": {"type": "text", "text": "Log−rank  p = 0.044", "align": "left", "baseline": "middle", "fontSize": 12, "color": "#333333"},
   "encoding": {
    "x": {"datum": 1.7, "type": "quantitative", "scale": {"domain": [-7.5, 157.5], "nice": false, "zero": false}},
    "y": {"datum": 0.045, "type": "quantitative", "scale": {"domain": [-0.053, 1.053], "nice": false, "zero": false}}}},
  {"data": {"values": [{}]},
   "mark": {"type": "text", "text": "(H)", "align": "left", "baseline": "middle", "fontSize": 17, "fontWeight": "bold", "color": "#111111"},
   "encoding": {
    "x": {"datum": -58.2, "type": "quantitative", "scale": {"domain": [-7.5, 157.5], "nice": false, "zero": false}},
    "y": {"datum": 1.18, "type": "quantitative", "scale": {"domain": [-0.053, 1.053], "nice": false, "zero": false}}}},
  {"data": {"values": [{}]},
   "mark": {"type": "text", "text": "E-MTAB-6134", "align": "center", "baseline": "alphabetic", "fontSize": 16, "color": "#1A1A1A"},
   "encoding": {
    "x": {"datum": 75, "type": "quantitative", "scale": {"domain": [-7.5, 157.5], "nice": false, "zero": false}},
    "y": {"datum": 1.1, "type": "quantitative", "scale": {"domain": [-0.053, 1.053], "nice": false, "zero": false}}}}
 ]
},
{
 "width": 192, "height": 140,
 "data": {"values": [
  {"g": "R:21", "t": 0, "s": 1}, {"g": "R:21", "t": 5.3, "s": 0.95}, {"g": "R:21", "t": 7.5, "s": 0.88}, {"g": "R:21", "t": 9.1, "s": 0.8}, {"g": "R:21", "t": 9.8, "s": 0.73}, {"g": "R:21", "t": 12.1, "s": 0.69}, {"g": "R:21", "t": 13.1, "s": 0.62}, {"g": "R:21", "t": 15.1, "s": 0.54}, {"g": "R:21", "t": 17.1, "s": 0.48}, {"g": "R:21", "t": 18.1, "s": 0.44}, {"g": "R:21", "t": 19.6, "s": 0.4}, {"g": "R:21", "t": 21.1, "s": 0.32}, {"g": "R:21", "t": 25.7, "s": 0.28}, {"g": "R:21", "t": 27.9, "s": 0.256}, {"g": "R:21", "t": 30.2, "s": 0.178}, {"g": "R:21", "t": 64.2, "s": 0.178},
  {"g": "S:42", "t": 0, "s": 1}, {"g": "S:42", "t": 3.8, "s": 0.97}, {"g": "S:42", "t": 5.3, "s": 0.93}, {"g": "S:42", "t": 6.8, "s": 0.9}, {"g": "S:42", "t": 9.1, "s": 0.87}, {"g": "S:42", "t": 11.3, "s": 0.84}, {"g": "S:42", "t": 13.6, "s": 0.8}, {"g": "S:42", "t": 15.1, "s": 0.77}, {"g": "S:42", "t": 16.6, "s": 0.71}, {"g": "S:42", "t": 18.1, "s": 0.65}, {"g": "S:42", "t": 19.6, "s": 0.6}, {"g": "S:42", "t": 21.1, "s": 0.57}, {"g": "S:42", "t": 30.2, "s": 0.53}, {"g": "S:42", "t": 31.7, "s": 0.46}, {"g": "S:42", "t": 34, "s": 0.41}, {"g": "S:42", "t": 35.5, "s": 0.36}, {"g": "S:42", "t": 37, "s": 0.32}, {"g": "S:42", "t": 37.7, "s": 0.28}, {"g": "S:42", "t": 80, "s": 0.28}
 ]},
 "layer": [
  {"mark": {"type": "line", "interpolate": "step-after", "strokeWidth": 1.4},
   "encoding": {
    "x": {"field": "t", "type": "quantitative", "scale": {"domain": [-4, 84], "nice": false, "zero": false}, "axis": {"values": [0, 20, 40, 60, 80], "tickCount": 20, "title": "Time (in months)"}},
    "y": {"field": "s", "type": "quantitative", "scale": {"domain": [-0.05, 1.05], "nice": false, "zero": false}, "axis": {"values": [0, 0.25, 0.5, 0.75, 1], "tickCount": 20, "format": ".2f", "title": "Survival probability"}},
    "color": {"field": "g", "type": "nominal", "scale": {"domain": ["R:21", "S:42"], "range": ["#D0312D", "#3B78B0"]}, "legend": {"title": null}}}},
  {"data": {"values": [{"g": "R:21", "t": 37, "s": 0.178}, {"g": "R:21", "t": 64, "s": 0.178}, {"g": "S:42", "t": 45, "s": 0.28}, {"g": "S:42", "t": 49, "s": 0.28}, {"g": "S:42", "t": 53, "s": 0.28}, {"g": "S:42", "t": 57, "s": 0.28}, {"g": "S:42", "t": 80, "s": 0.28}]},
   "mark": {"type": "point", "shape": "M-1,0H1M0,-1V1", "size": 22, "filled": false, "strokeWidth": 1, "opacity": 1},
   "encoding": {
    "x": {"field": "t", "type": "quantitative", "scale": {"domain": [-4, 84], "nice": false, "zero": false}},
    "y": {"field": "s", "type": "quantitative", "scale": {"domain": [-0.05, 1.05], "nice": false, "zero": false}},
    "color": {"field": "g", "type": "nominal", "scale": {"domain": ["R:21", "S:42"], "range": ["#D0312D", "#3B78B0"]}, "legend": null}}},
  {"data": {"values": [{}]},
   "mark": {"type": "text", "text": "Log−rank  p = 0.063", "align": "left", "baseline": "middle", "fontSize": 12, "color": "#333333"},
   "encoding": {
    "x": {"datum": -1, "type": "quantitative", "scale": {"domain": [-4, 84], "nice": false, "zero": false}},
    "y": {"datum": 0.06, "type": "quantitative", "scale": {"domain": [-0.05, 1.05], "nice": false, "zero": false}}}},
  {"data": {"values": [{}]},
   "mark": {"type": "text", "text": "(I)", "align": "left", "baseline": "middle", "fontSize": 17, "fontWeight": "bold", "color": "#111111"},
   "encoding": {
    "x": {"datum": -29.2, "type": "quantitative", "scale": {"domain": [-4, 84], "nice": false, "zero": false}},
    "y": {"datum": 1.19, "type": "quantitative", "scale": {"domain": [-0.05, 1.05], "nice": false, "zero": false}}}},
  {"data": {"values": [{}]},
   "mark": {"type": "text", "text": "GSE57495", "align": "center", "baseline": "alphabetic", "fontSize": 16, "color": "#1A1A1A"},
   "encoding": {
    "x": {"datum": 40, "type": "quantitative", "scale": {"domain": [-4, 84], "nice": false, "zero": false}},
    "y": {"datum": 1.105, "type": "quantitative", "scale": {"domain": [-0.05, 1.05], "nice": false, "zero": false}}}}
 ]
},
{
 "width": 190, "height": 140,
 "data": {"values": [
  {"g": "R:29", "t": 0, "s": 1}, {"g": "R:29", "t": 0.3, "s": 0.97}, {"g": "R:29", "t": 2.5, "s": 0.94}, {"g": "R:29", "t": 4.5, "s": 0.9}, {"g": "R:29", "t": 6.2, "s": 0.85}, {"g": "R:29", "t": 6.8, "s": 0.73}, {"g": "R:29", "t": 7.9, "s": 0.71}, {"g": "R:29", "t": 9.1, "s": 0.65}, {"g": "R:29", "t": 10.2, "s": 0.56}, {"g": "R:29", "t": 12.5, "s": 0.47}, {"g": "R:29", "t": 18.1, "s": 0.35}, {"g": "R:29", "t": 19.8, "s": 0.31}, {"g": "R:29", "t": 24.9, "s": 0.27}, {"g": "R:29", "t": 29.4, "s": 0.23}, {"g": "R:29", "t": 31.7, "s": 0.18}, {"g": "R:29", "t": 35.1, "s": 0.14}, {"g": "R:29", "t": 45.3, "s": 0.074}, {"g": "R:29", "t": 59.4, "s": 0.074},
  {"g": "S:96", "t": 0, "s": 1}, {"g": "S:96", "t": 1.7, "s": 0.97}, {"g": "S:96", "t": 3.4, "s": 0.92}, {"g": "S:96", "t": 5.1, "s": 0.86}, {"g": "S:96", "t": 6.2, "s": 0.81}, {"g": "S:96", "t": 7.4, "s": 0.77}, {"g": "S:96", "t": 7.9, "s": 0.73}, {"g": "S:96", "t": 10.2, "s": 0.705}, {"g": "S:96", "t": 11.9, "s": 0.67}, {"g": "S:96", "t": 13, "s": 0.63}, {"g": "S:96", "t": 14.2, "s": 0.57}, {"g": "S:96", "t": 15.3, "s": 0.53}, {"g": "S:96", "t": 16.4, "s": 0.49}, {"g": "S:96", "t": 17.5, "s": 0.455}, {"g": "S:96", "t": 18.7, "s": 0.415}, {"g": "S:96", "t": 19.8, "s": 0.376}, {"g": "S:96", "t": 21.5, "s": 0.337}, {"g": "S:96", "t": 23.2, "s": 0.31}, {"g": "S:96", "t": 26, "s": 0.297}, {"g": "S:96", "t": 28.9, "s": 0.284}, {"g": "S:96", "t": 32.8, "s": 0.258}, {"g": "S:96", "t": 38.5, "s": 0.226}, {"g": "S:96", "t": 43, "s": 0.192}, {"g": "S:96", "t": 47.5, "s": 0.179}, {"g": "S:96", "t": 52.1, "s": 0.166}, {"g": "S:96", "t": 53.8, "s": 0.113}, {"g": "S:96", "t": 54.9, "s": 0.079}, {"g": "S:96", "t": 55.5, "s": 0.079}
 ]},
 "layer": [
  {"mark": {"type": "line", "interpolate": "step-after", "strokeWidth": 1.4},
   "encoding": {
    "x": {"field": "t", "type": "quantitative", "scale": {"domain": [-3, 63], "nice": false, "zero": false}, "axis": {"values": [0, 10, 20, 30, 40, 50, 60], "tickCount": 20, "title": "Time (in months)"}},
    "y": {"field": "s", "type": "quantitative", "scale": {"domain": [-0.05, 1.05], "nice": false, "zero": false}, "axis": {"values": [0, 0.25, 0.5, 0.75, 1], "tickCount": 20, "format": ".2f", "title": "Survival probability"}},
    "color": {"field": "g", "type": "nominal", "scale": {"domain": ["R:29", "S:96"], "range": ["#D0312D", "#3B78B0"]}, "legend": {"title": null}}}},
  {"data": {"values": [{"g": "R:29", "t": 59, "s": 0.074}, {"g": "S:96", "t": 39, "s": 0.226}, {"g": "S:96", "t": 48, "s": 0.179}]},
   "mark": {"type": "point", "shape": "M-1,0H1M0,-1V1", "size": 22, "filled": false, "strokeWidth": 1, "opacity": 1},
   "encoding": {
    "x": {"field": "t", "type": "quantitative", "scale": {"domain": [-3, 63], "nice": false, "zero": false}},
    "y": {"field": "s", "type": "quantitative", "scale": {"domain": [-0.05, 1.05], "nice": false, "zero": false}},
    "color": {"field": "g", "type": "nominal", "scale": {"domain": ["R:29", "S:96"], "range": ["#D0312D", "#3B78B0"]}, "legend": null}}},
  {"data": {"values": [{}]},
   "mark": {"type": "text", "text": "Log−rank p = 0.300", "align": "left", "baseline": "middle", "fontSize": 12, "color": "#333333"},
   "encoding": {
    "x": {"datum": -0.3, "type": "quantitative", "scale": {"domain": [-3, 63], "nice": false, "zero": false}},
    "y": {"datum": 0.055, "type": "quantitative", "scale": {"domain": [-0.05, 1.05], "nice": false, "zero": false}}}},
  {"data": {"values": [{}]},
   "mark": {"type": "text", "text": "(J)", "align": "left", "baseline": "middle", "fontSize": 17, "fontWeight": "bold", "color": "#111111"},
   "encoding": {
    "x": {"datum": -22.8, "type": "quantitative", "scale": {"domain": [-3, 63], "nice": false, "zero": false}},
    "y": {"datum": 1.19, "type": "quantitative", "scale": {"domain": [-0.05, 1.05], "nice": false, "zero": false}}}},
  {"data": {"values": [{}]},
   "mark": {"type": "text", "text": "GSE71729", "align": "center", "baseline": "alphabetic", "fontSize": 16, "color": "#1A1A1A"},
   "encoding": {
    "x": {"datum": 30, "type": "quantitative", "scale": {"domain": [-3, 63], "nice": false, "zero": false}},
    "y": {"datum": 1.105, "type": "quantitative", "scale": {"domain": [-0.05, 1.05], "nice": false, "zero": false}}}}
 ]
},
{
 "width": 195, "height": 140,
 "data": {"values": [
  {"g": "R:17", "t": 0, "s": 1}, {"g": "R:17", "t": 2.4, "s": 0.94}, {"g": "R:17", "t": 3.4, "s": 0.88}, {"g": "R:17", "t": 4.3, "s": 0.82}, {"g": "R:17", "t": 6.5, "s": 0.73}, {"g": "R:17", "t": 7.5, "s": 0.64}, {"g": "R:17", "t": 12, "s": 0.57}, {"g": "R:17", "t": 13, "s": 0.47}, {"g": "R:17", "t": 14, "s": 0.39}, {"g": "R:17", "t": 15, "s": 0.32}, {"g": "R:17", "t": 25, "s": 0.16}, {"g": "R:17", "t": 36.7, "s": 0},
  {"g": "S:25", "t": 0, "s": 1}, {"g": "S:25", "t": 3, "s": 0.97}, {"g": "S:25", "t": 4.8, "s": 0.92}, {"g": "S:25", "t": 7.2, "s": 0.85}, {"g": "S:25", "t": 9.1, "s": 0.8}, {"g": "S:25", "t": 10.1, "s": 0.76}, {"g": "S:25", "t": 11.1, "s": 0.72}, {"g": "S:25", "t": 13, "s": 0.68}, {"g": "S:25", "t": 14.9, "s": 0.64}, {"g": "S:25", "t": 17.3, "s": 0.6}, {"g": "S:25", "t": 19.7, "s": 0.56}, {"g": "S:25", "t": 23.6, "s": 0.52}, {"g": "S:25", "t": 27.4, "s": 0.48}, {"g": "S:25", "t": 28.8, "s": 0.43}, {"g": "S:25", "t": 29.8, "s": 0.35}, {"g": "S:25", "t": 41.8, "s": 0.23}, {"g": "S:25", "t": 42.4, "s": 0.12}, {"g": "S:25", "t": 51.9, "s": 0}
 ]},
 "layer": [
  {"mark": {"type": "line", "interpolate": "step-after", "strokeWidth": 1.4},
   "encoding": {
    "x": {"field": "t", "type": "quantitative", "scale": {"domain": [-2.5, 52.5], "nice": false, "zero": false}, "axis": {"values": [0, 10, 20, 30, 40, 50], "tickCount": 20, "title": "Time (in months)"}},
    "y": {"field": "s", "type": "quantitative", "scale": {"domain": [-0.05, 1.05], "nice": false, "zero": false}, "axis": {"values": [0, 0.25, 0.5, 0.75, 1], "tickCount": 20, "format": ".2f", "title": "Survival probability"}},
    "color": {"field": "g", "type": "nominal", "scale": {"domain": ["R:17", "S:25"], "range": ["#D0312D", "#3B78B0"]}, "legend": {"title": null}}}},
  {"data": {"values": [{"g": "R:17", "t": 17, "s": 0.32}, {"g": "R:17", "t": 20, "s": 0.32}, {"g": "R:17", "t": 22, "s": 0.32}, {"g": "S:25", "t": 20.5, "s": 0.56}, {"g": "S:25", "t": 22, "s": 0.56}, {"g": "S:25", "t": 38, "s": 0.35}]},
   "mark": {"type": "point", "shape": "M-1,0H1M0,-1V1", "size": 22, "filled": false, "strokeWidth": 1, "opacity": 1},
   "encoding": {
    "x": {"field": "t", "type": "quantitative", "scale": {"domain": [-2.5, 52.5], "nice": false, "zero": false}},
    "y": {"field": "s", "type": "quantitative", "scale": {"domain": [-0.05, 1.05], "nice": false, "zero": false}},
    "color": {"field": "g", "type": "nominal", "scale": {"domain": ["R:17", "S:25"], "range": ["#D0312D", "#3B78B0"]}, "legend": null}}},
  {"data": {"values": [{}]},
   "mark": {"type": "text", "text": "Log−rank  p = 0.054", "align": "left", "baseline": "middle", "fontSize": 12, "color": "#333333"},
   "encoding": {
    "x": {"datum": -0.5, "type": "quantitative", "scale": {"domain": [-2.5, 52.5], "nice": false, "zero": false}},
    "y": {"datum": 0.068, "type": "quantitative", "scale": {"domain": [-0.05, 1.05], "nice": false, "zero": false}}}},
  {"data": {"values": [{}]},
   "mark": {"type": "text", "text": "(K)", "align": "left", "baseline": "middle", "fontSize": 17, "fontWeight": "bold", "color": "#111111"},
   "encoding": {
    "x": {"datum": -18.6, "type": "quantitative", "scale": {"domain": [-2.5, 52.5], "nice": false, "zero": false}},
    "y": {"datum": 1.19, "type": "quantitative", "scale": {"domain": [-0.05, 1.05], "nice": false, "zero": false}}}},
  {"data": {"values": [{}]},
   "mark": {"type": "text", "text": "GSE28735", "align": "center", "baseline": "alphabetic", "fontSize": 16, "color": "#1A1A1A"},
   "encoding": {
    "x": {"datum": 25, "type": "quantitative", "scale": {"domain": [-2.5, 52.5], "nice": false, "zero": false}},
    "y": {"datum": 1.105, "type": "quantitative", "scale": {"domain": [-0.05, 1.05], "nice": false, "zero": false}}}}
 ]
},
{
 "width": 192, "height": 140,
 "data": {"values": [
  {"g": "R:7", "t": 0, "s": 1}, {"g": "R:7", "t": 5.7, "s": 0.8}, {"g": "R:7", "t": 21.1, "s": 0.8},
  {"g": "S:12", "t": 0, "s": 1}, {"g": "S:12", "t": 34.6, "s": 0.8}, {"g": "S:12", "t": 46.9, "s": 0.533}, {"g": "S:12", "t": 55.4, "s": 0.267}, {"g": "S:12", "t": 62.3, "s": 0}
 ]},
 "layer": [
  {"mark": {"type": "line", "interpolate": "step-after", "strokeWidth": 1.4},
   "encoding": {
    "x": {"field": "t", "type": "quantitative", "scale": {"domain": [-2.9, 63.3], "nice": false, "zero": false}, "axis": {"values": [0, 20, 40, 60], "tickCount": 20, "title": "Time (in months)"}},
    "y": {"field": "s", "type": "quantitative", "scale": {"domain": [-0.05, 1.05], "nice": false, "zero": false}, "axis": {"values": [0, 0.25, 0.5, 0.75, 1], "tickCount": 20, "format": ".2f", "title": "Survival probability"}},
    "color": {"field": "g", "type": "nominal", "scale": {"domain": ["R:7", "S:12"], "range": ["#D0312D", "#3B78B0"]}, "legend": {"title": null}}}},
  {"data": {"values": [{"g": "R:7", "t": 2, "s": 1}, {"g": "R:7", "t": 3.5, "s": 1}, {"g": "R:7", "t": 11, "s": 0.8}, {"g": "R:7", "t": 21, "s": 0.8}, {"g": "S:12", "t": 1, "s": 1}, {"g": "S:12", "t": 16, "s": 1}, {"g": "S:12", "t": 18.5, "s": 1}, {"g": "S:12", "t": 21, "s": 1}, {"g": "S:12", "t": 37.5, "s": 0.8}]},
   "mark": {"type": "point", "shape": "M-1,0H1M0,-1V1", "size": 22, "filled": false, "strokeWidth": 1, "opacity": 1},
   "encoding": {
    "x": {"field": "t", "type": "quantitative", "scale": {"domain": [-2.9, 63.3], "nice": false, "zero": false}},
    "y": {"field": "s", "type": "quantitative", "scale": {"domain": [-0.05, 1.05], "nice": false, "zero": false}},
    "color": {"field": "g", "type": "nominal", "scale": {"domain": ["R:7", "S:12"], "range": ["#D0312D", "#3B78B0"]}, "legend": null}}},
  {"data": {"values": [{}]},
   "mark": {"type": "text", "text": "Log−rank  p = 0.206", "align": "left", "baseline": "middle", "fontSize": 12, "color": "#333333"},
   "encoding": {
    "x": {"datum": 0.3, "type": "quantitative", "scale": {"domain": [-2.9, 63.3], "nice": false, "zero": false}},
    "y": {"datum": 0.052, "type": "quantitative", "scale": {"domain": [-0.05, 1.05], "nice": false, "zero": false}}}},
  {"data": {"values": [{}]},
   "mark": {"type": "text", "text": "(L)", "align": "left", "baseline": "middle", "fontSize": 17, "fontWeight": "bold", "color": "#111111"},
   "encoding": {
    "x": {"datum": -23.2, "type": "quantitative", "scale": {"domain": [-2.9, 63.3], "nice": false, "zero": false}},
    "y": {"datum": 1.19, "type": "quantitative", "scale": {"domain": [-0.05, 1.05], "nice": false, "zero": false}}}},
  {"data": {"values": [{}]},
   "mark": {"type": "text", "text": "GSE17891", "align": "center", "baseline": "alphabetic", "fontSize": 16, "color": "#1A1A1A"},
   "encoding": {
    "x": {"datum": 30.2, "type": "quantitative", "scale": {"domain": [-2.9, 63.3], "nice": false, "zero": false}},
    "y": {"datum": 1.105, "type": "quantitative", "scale": {"domain": [-0.05, 1.05], "nice": false, "zero": false}}}}
 ]
}
]
}
